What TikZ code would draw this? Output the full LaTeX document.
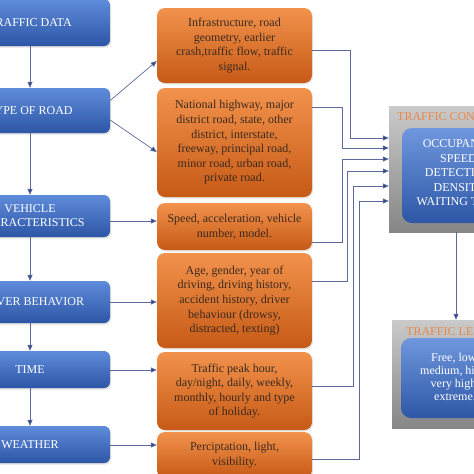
\documentclass[tikz,border=0pt]{standalone}
\usepackage{fontspec}
\setmainfont{Liberation Serif}
\usetikzlibrary{arrows.meta,shadows}
\definecolor{bluetop}{HTML}{5F8CDA}
\definecolor{bluebot}{HTML}{2D56A6}
\definecolor{orgtop}{HTML}{F2924C}
\definecolor{orgbot}{HTML}{C65A16}
\definecolor{orgtext}{HTML}{3B2A1E}
\definecolor{graytop}{HTML}{CACACA}
\definecolor{graybot}{HTML}{868686}
\definecolor{titleorg}{HTML}{E8894A}
\definecolor{linecol}{HTML}{5A6A9C}
\definecolor{tipcol}{HTML}{34488A}
\begin{document}
\begin{tikzpicture}[x=1pt,y=-1pt,
  bluebox/.style={rounded corners=6pt, top color=bluetop, bottom color=bluebot, draw=none,
    text=white, font=\fontsize{12}{14}\selectfont, align=center, inner sep=0pt,
    minimum width=160pt, drop shadow={opacity=0.25, shadow xshift=1pt, shadow yshift=-1.5pt}},
  orgbox/.style={rounded corners=8pt, top color=orgtop, bottom color=orgbot, draw=none,
    text=orgtext, font=\fontsize{12}{14.6}\selectfont, align=center, inner sep=0pt,
    minimum width=155pt, drop shadow={opacity=0.2, shadow xshift=1pt, shadow yshift=-1.5pt}},
  graybox/.style={top color=graytop, bottom color=graybot, draw=none, inner sep=0pt},
  innerblue/.style={rounded corners=10pt, top color=bluetop!90!white, bottom color=bluebot, draw=none, inner sep=0pt},
  wtext/.style={text=white, font=\fontsize{12}{14.5}\selectfont, align=center, inner sep=0pt},
  ttext/.style={text=titleorg, font=\fontsize{12}{14}\selectfont, inner sep=0pt, anchor=west},
  arr/.style={draw=linecol, line width=0.7pt, -{Triangle[length=6pt,width=5pt,fill=tipcol]}},
]
\useasboundingbox (0,0) rectangle (474,474);
\clip (0,0) rectangle (474,474);

% left column
\node[bluebox, minimum height=47pt] (L1) at (30,22.5) {TRAFFIC DATA};
\node[bluebox, minimum height=45pt] (L2) at (30,110.5) {TYPE OF ROAD};
\node[bluebox, minimum height=42pt] (L3) at (30,216) {VEHICLE\\CHARACTERISTICS};
\node[bluebox, minimum height=42pt] (L4) at (30,302) {DRIVER BEHAVIOR};
\node[bluebox, minimum height=37pt] (L5) at (30,369.5) {TIME};
\node[bluebox, minimum height=37pt] (L6) at (30,444.5) {WEATHER};

% middle column
\node[orgbox, minimum height=75pt] (A) at (234.5,45.5) {Infrastructure, road\\geometry, earlier\\crash,traffic flow, traffic\\signal.};
\node[orgbox, minimum height=109pt] (B) at (234.5,142.5) {National highway, major\\district road, state, other\\district, interstate,\\freeway, principal road,\\minor road, urban road,\\private road.};
\node[orgbox, minimum height=47pt] (C) at (234.5,226.5) {Speed, acceleration, vehicle\\number, model.};
\node[orgbox, minimum height=95pt] (D) at (234.5,300.5) {Age, gender, year of\\driving, driving history,\\accident history, driver\\behaviour (drowsy,\\distracted, texting)};
\node[orgbox, minimum height=78pt] (E) at (234.5,391) {Traffic peak hour,\\day/night, daily, weekly,\\monthly, hourly and type\\of holiday.};
\node[orgbox, minimum height=46pt] (F) at (234.5,455) {Perciptation, light,\\visibility.};

% right column
\node[graybox, minimum width=171pt, minimum height=126pt] (ctrl) at (474.5,169) {};
\node[innerblue, minimum width=158pt, minimum height=95pt] (ctrlin) at (481,175.5) {};
\node[ttext] (ctrltitle) at (397,117) {TRAFFIC CONTROL};
\node[wtext] (ctrltxt) at (460,173) {OCCUPANCY,\\SPEED,\\DETECTION,\\DENSITY,\\WAITING TIME.};

\node[graybox, minimum width=168pt, minimum height=108pt] (lvl) at (476,374) {};
\node[innerblue, minimum width=159pt, minimum height=80pt] (lvlin) at (480.5,378) {};
\node[ttext] (lvltitle) at (406,332) {TRAFFIC LEVEL};
\node[wtext, font=\fontsize{12}{13}\selectfont] (lvltxt) at (455,376.5) {Free, low,\\medium, high,\\very high,\\extreme.};

% helper levels
\coordinate (hA) at (0,50);
\coordinate (hB) at (0,107);
\coordinate (hC) at (0,242);
\coordinate (hD) at (0,281);
\coordinate (hE) at (0,386);
\coordinate (hF) at (0,459);
\coordinate (t1) at (0,138);
\coordinate (t2) at (0,148);
\coordinate (t3) at (0,159);
\coordinate (t4) at (0,171);
\coordinate (t5) at (0,186);
\coordinate (t6) at (0,201);
\coordinate (h3) at (0,221);
\coordinate (h4) at (0,302);
\coordinate (h5) at (0,370);
\coordinate (h6) at (0,445);
\coordinate (xv) at (456,0);

% left column down arrows
\draw[arr] (L1) -- (L2);
\draw[arr] (L2) -- (L3);
\draw[arr] (L3) -- (L4);
\draw[arr] (L4) -- (L5);
\draw[arr] (L5) -- (L6);

% left to middle
\draw[arr] ([yshift=10pt]L2.east) -- ([yshift=-15.5pt]A.west);
\draw[arr] ([yshift=-9.5pt]L2.east) -- ([yshift=-9.5pt]B.west);
\draw[arr] (L3.east |- h3) -- (C.west |- h3);
\draw[arr] (L4.east |- h4) -- (D.west |- h4);
\draw[arr] (L5.east |- h5) -- (E.west |- h5);
\draw[arr] (L6.east |- h6) -- (F.west |- h6);

% middle to control
\draw[arr] (A.east |- hA) -- ++(38,0) |- (ctrl.west |- t1);
\draw[arr] (B.east |- hB) -- ++(30,0) |- (ctrl.west |- t2);
\draw[arr] (C.east |- hC) -- ++(30,0) |- (ctrl.west |- t3);
\draw[arr] (D.east |- hD) -- ++(35,0) |- (ctrl.west |- t4);
\draw[arr] (E.east |- hE) -- ++(41,0) |- (ctrl.west |- t5);
\draw[arr] (F.east |- hF) -- ++(47,0) |- (ctrl.west |- t6);

% control to level
\draw[arr] (ctrl.south -| xv) -- (lvl.north -| xv);
\end{tikzpicture}
\end{document}
